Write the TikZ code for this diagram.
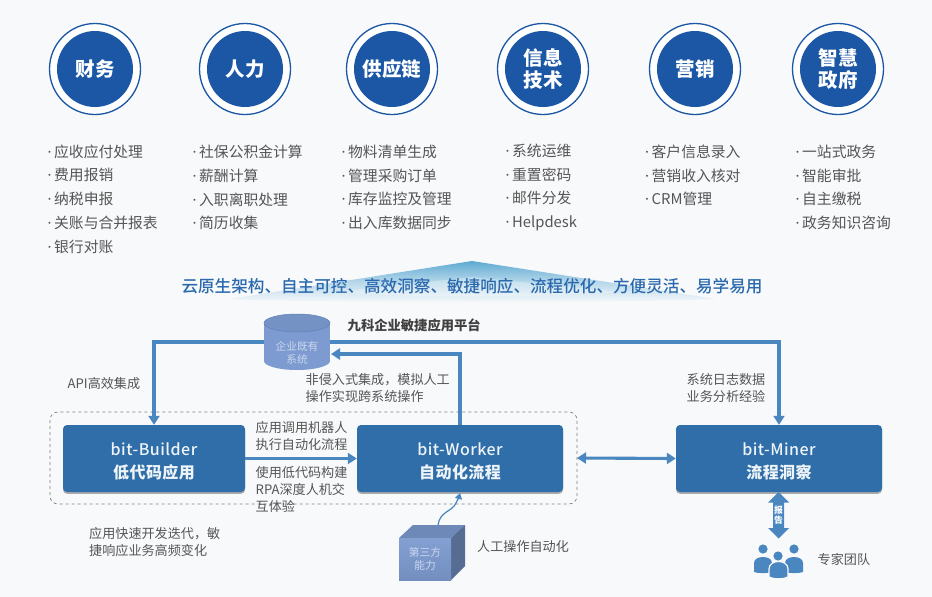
\documentclass[tikz,border=0pt]{standalone}
\usepackage{fontspec}
\setmainfont{Noto Sans CJK SC}
\newfontfamily\med{Noto Sans CJK SC Medium}
\newfontfamily\medls[LetterSpace=3]{Noto Sans CJK SC Medium}
\newfontfamily\latinf{Noto Sans}
\usetikzlibrary{shapes.geometric,arrows.meta,shadows,calc}
\definecolor{bgc}{HTML}{F8F9FB}
\definecolor{disc}{HTML}{1B57A5}
\definecolor{boxc}{HTML}{2F6EA9}
\definecolor{linkc}{HTML}{4A86BF}
\definecolor{txtc}{HTML}{555555}
\definecolor{bannertxt}{HTML}{2A69AE}
\definecolor{wedgec}{HTML}{5DAAD2}
\definecolor{pale}{HTML}{CBD8EE}
\definecolor{cylc}{HTML}{7D9BD0}
\definecolor{cylline}{HTML}{5F80BA}
\newcommand{\fs}[2]{\fontsize{#1}{#2}\selectfont}
\newcommand{\bul}{{\latinf ·}\kern2.5pt}
\newcommand{\lift}{\rule{0pt}{19pt}}
\tikzset{
 x=1pt,y=-1pt,
 ring/.style={circle,draw=disc,line width=1.3pt,fill=white,minimum size=91pt,inner sep=0},
 discnode/.style={circle,fill=disc,minimum size=76pt,inner sep=0,text=white,align=center,font=\bfseries\fs{19.5}{22}},
 listnode/.style={anchor=west,align=left,text=txtc,inner sep=0,font=\fs{14.8}{23.7}},
 labelnode/.style={anchor=west,align=left,text=txtc,inner sep=0,font=\fs{13.1}{17}},
 stagebox/.style={rectangle,rounded corners=4pt,fill=boxc,text=white!92!boxc,inner sep=0,align=center,
   minimum height=67pt,font=\medls\fs{16}{23},drop shadow={shadow xshift=0pt,shadow yshift=-1.8pt,opacity=.45,fill=black!70}},
 link/.style={draw=linkc,line width=3.1pt,-{Triangle[length=9pt,width=11pt]}},
 linkboth/.style={draw=linkc,line width=3.1pt,{Triangle[length=9pt,width=11pt]}-{Triangle[length=9pt,width=11pt]}},
 person/.style={fill=linkc},
}
\begin{document}
\begin{tikzpicture}
\useasboundingbox (0,0) rectangle (932,597);
\fill[bgc] (0,0) rectangle (932,597);

% banner wedge
\shade[top color=wedgec,bottom color=bgc,middle color=wedgec!42!bgc]
  (472,261) -- (716,299) .. controls (640,303) and (300,303) .. (230,299) -- cycle;
\fill[white,opacity=.28] (335,292) -- (472,277) -- (620,292) .. controls (520,298) and (420,298) .. (335,292) -- cycle;

% discs
\foreach \n/\x/\t in {a/95/财务,b/245/人力,c/392/供应链,d/543/{信息\\技术},e/695/营销,f/838/{智慧\\政府}}{
  \node[ring] (ring\n) at (\x,69) {};
  \node[discnode] (disc\n) at (\x,69) {\t};
}

% lists
\node[listnode] (l1) at (47.5,199) {\bul 应收应付处理\\\bul 费用报销\\\bul 纳税申报\\\bul 关账与合并报表\\\bul 银行对账};
\node[listnode] (l2) at (192.5,187.5) {\bul 社保公积金计算\\\bul 薪酬计算\\\bul 入职离职处理\\\bul 简历收集};
\node[listnode] (l3) at (341.5,187.5) {\bul 物料清单生成\\\bul 管理采购订单\\\bul 库存监控及管理\\\bul 出入库数据同步};
\node[listnode] (l4) at (505.5,187.5) {\bul 系统运维\\\bul 重置密码\\\bul 邮件分发\\\bul Helpdesk};
\node[listnode] (l5) at (645,175.5) {\bul 客户信息录入\\\bul 营销收入核对\\\bul CRM管理};
\node[listnode] (l6) at (795.5,187.5) {\bul 一站式政务\\\bul 智能审批\\\bul 自主缴税\\\bul 政务知识咨询};

\node[text=bannertxt,inner sep=0,font=\med\fs{16.6}{20}] (banner) at (472,286) {云原生架构、自主可控、高效洞察、敏捷响应、流程优化、方便灵活、易学易用};

% dashed frame
\draw[dashed,draw=black!50,line width=.7pt,rounded corners=8pt] (50,412) rectangle (577,504);
\coordinate (frameR) at (577,458);

% stage boxes
\node[stagebox,minimum width=182pt] (builder) at (154,458.5) {\lift bit-Builder\\\bfseries 低代码应用};
\node[stagebox,minimum width=206pt] (worker) at (460,458.5) {\lift bit-Worker\\\bfseries 自动化流程};
\node[stagebox,minimum width=206pt] (miner) at (779,458.5) {\lift bit-Miner\\\bfseries 流程洞察};

% cylinder
\fill[cylc] (264,323) rectangle (330,361);
\fill[cylc] (297,361) circle[x radius=33,y radius=9];
\filldraw[fill=cylc!94!black,draw=cylline,line width=.5pt] (297,323) circle[x radius=33,y radius=9];
\node[rectangle,minimum width=66pt,minimum height=56pt,inner sep=0] (cyl) at (297,342) {};
\node[text=pale,align=center,inner sep=0,font=\fs{10.7}{13}] (cyltext) at (297,353) {企业既有\\系统};
\coordinate (cylIn) at (331,354);

% connectors
\draw[link] (cyl.west) -| (builder.north);
\draw[link] (cyl.east) -| (miner.north);
\draw[link] (worker.north) |- (cylIn);
\draw[link] (builder.east) -- (worker.west);
\draw[linkboth] (frameR) -- (miner.west);

% cube
\fill[cylc!88!black] (399,538) -- (413,525) -- (465,525) -- (451,538) -- cycle;
\fill[cylc!70!black] (451,538) -- (465,525) -- (465,566) -- (451,580) -- cycle;
\node[rectangle,minimum width=52pt,minimum height=42pt,inner sep=0,top color=cylc!95!white,bottom color=cylc!92!black,
  text=pale,align=center,font=\fs{10.7}{13}] (third) at (425,559) {第三方\\能力};
\coordinate (thirdTop) at (438,525);
\draw[draw=linkc,line width=1.2pt,-{Triangle[length=6pt,width=7pt]}] (thirdTop) .. controls (440,511) and (452,512) .. (456,503) .. controls (458,499) and (459,497) .. (460,493);

% report arrow
\fill[linkc] (778.5,492) -- (789,502.5) -- (784,502.5) -- (784,528) -- (789,528) -- (778.5,538.5) -- (768,528) -- (773,528) -- (773,502.5) -- (768,502.5) -- cycle;
\node[text=white,align=center,inner sep=0,font=\bfseries\fs{8.8}{10.5}] (report) at (778.5,515) {报\\告};

% people
\fill[person] (763,549) circle (4.6);
\fill[person] (754,572) -- (754,563) .. controls (754,555) and (772,555) .. (772,563) -- (772,572) .. controls (768,573.5) and (758,573.5) .. (754,572) -- cycle;
\fill[person] (794,549) circle (4.6);
\fill[person] (785,572) -- (785,563) .. controls (785,555) and (803,555) .. (803,563) -- (803,572) .. controls (799,573.5) and (789,573.5) .. (785,572) -- cycle;
\filldraw[person,draw=bgc,line width=1.2pt] (769,577) -- (769,569) .. controls (769,559) and (788,559) .. (788,569) -- (788,577) .. controls (783,579.5) and (774,579.5) .. (769,577) -- cycle;
\fill[person] (778,556) circle (4.6);

% labels
\node[labelnode,font=\bfseries\fs{13.3}{17},text=black!75] (title) at (347.5,325) {九科企业敏捷应用平台};
\node[labelnode] (api) at (67.5,384) {API高效集成};
\node[labelnode] (nonin) at (305.5,388.5) {非侵入式集成，模拟人工\\操作实现跨系统操作};
\node[labelnode] (call) at (255.5,436) {应用调用机器人\\执行自动化流程};
\node[labelnode] (lowcode) at (255.5,489) {使用低代码构建\\RPA深度人机交\\互体验};
\node[labelnode] (rapid) at (89,542.5) {应用快速开发迭代，敏\\捷响应业务高频变化};
\node[labelnode] (manual) at (477,547) {人工操作自动化};
\node[labelnode] (log) at (686.5,388.5) {系统日志数据\\业务分析经验};
\node[labelnode] (experts) at (817.5,559) {专家团队};
\end{tikzpicture}
\end{document}
